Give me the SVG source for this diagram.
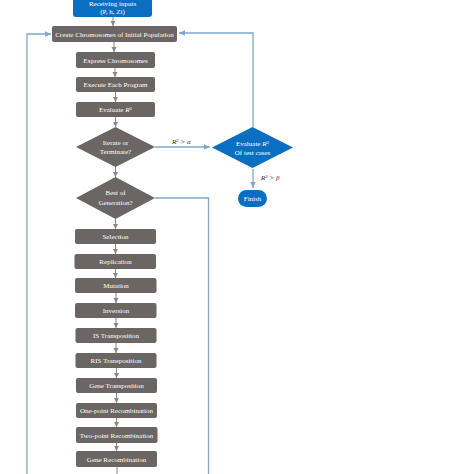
<svg xmlns="http://www.w3.org/2000/svg" width="474" height="474" viewBox="0 0 474 474">
<defs>
<style>
.g{fill:#6b6663}
.b{fill:#0b6fc1}
.t{font-family:"Liberation Serif","Times New Roman",serif;font-size:7px;fill:#fff;text-anchor:middle}
.l{font-family:"Liberation Serif","Times New Roman",serif;font-size:7px;fill:#333;font-style:italic}
.ga{stroke:#8a8784;stroke-width:1;fill:none}
.bl{stroke:#7fa8cb;stroke-width:1.3;fill:none}
</style>
<marker id="ag" markerWidth="6" markerHeight="6" refX="5" refY="3" orient="auto" markerUnits="userSpaceOnUse">
<path d="M0,0.5 L5,3 L0,5.5 Z" fill="#8a8784"/>
</marker>
<marker id="ab" markerWidth="7" markerHeight="7" refX="6" refY="3.5" orient="auto" markerUnits="userSpaceOnUse">
<path d="M0,0.8 L6,3.5 L0,6.2 Z" fill="#7fa8cb"/>
</marker>
</defs>
<rect width="474" height="474" fill="#fff"/>
<g id="connectors">
<path class="ga" d="M113,17 V26" marker-end="url(#ag)"/>
<path class="ga" d="M114,42 V52" marker-end="url(#ag)"/>
<path class="ga" d="M115,68 V77" marker-end="url(#ag)"/>
<path class="ga" d="M115.5,92 V102" marker-end="url(#ag)"/>
<path class="ga" d="M115.5,117 V127" marker-end="url(#ag)"/>
<path class="ga" d="M115.5,166 V177" marker-end="url(#ag)"/>
<path class="ga" d="M115.5,219 V229" marker-end="url(#ag)"/>
<path class="ga" d="M115.5,244 V254" marker-end="url(#ag)"/>
<path class="ga" d="M115.5,269 V278" marker-end="url(#ag)"/>
<path class="ga" d="M116,293 V303" marker-end="url(#ag)"/>
<path class="ga" d="M116,318 V328" marker-end="url(#ag)"/>
<path class="ga" d="M116,343 V353" marker-end="url(#ag)"/>
<path class="ga" d="M116.5,368 V378" marker-end="url(#ag)"/>
<path class="ga" d="M116.5,393 V403" marker-end="url(#ag)"/>
<path class="ga" d="M116.5,418 V427" marker-end="url(#ag)"/>
<path class="ga" d="M116.5,443 V451" marker-end="url(#ag)"/>
<path class="ga" d="M117,467 V476"/>
<path class="bl" d="M27,476 V34 H51" marker-end="url(#ab)"/>
<path class="bl" d="M253,127 V33 H179" marker-end="url(#ab)"/>
<path class="bl" d="M155,147 H210" marker-end="url(#ab)"/>
<path class="bl" d="M253,169 V188" marker-end="url(#ab)"/>
<path class="bl" d="M155,198 H208.5 V476"/>
<text class="l" x="172" y="144">R<tspan font-size="5" dy="-2.5" font-style="normal">2</tspan><tspan dy="2.5"> &gt; α</tspan></text>
<text class="l" x="261" y="180">R<tspan font-size="5" dy="-2.5" font-style="normal">2</tspan><tspan dy="2.5"> &gt; β</tspan></text>
</g>
<g id="receiving"><rect class="b" x="73" y="-8" width="79" height="25" rx="3"/><text class="t" x="112.5" y="6">Receiving inputs</text><text class="t" x="112.5" y="13.5">(P, h, Zi)</text></g>
<g id="create"><rect class="g" x="52" y="26" width="125" height="16" rx="2"/><text class="t" x="114.5" y="36.5">Create Chromosomes of Initial Population</text></g>
<g id="express"><rect class="g" x="76" y="52" width="79" height="16" rx="2"/><text class="t" x="115.5" y="62.5">Express Chromosomes</text></g>
<g id="execute"><rect class="g" x="76" y="77" width="79" height="15" rx="2"/><text class="t" x="115.5" y="87">Execute Each Program</text></g>
<g id="evaluate"><rect class="g" x="76" y="102" width="79" height="15" rx="2"/><text class="t" x="115.5" y="112">Evaluate <tspan font-style="italic">R</tspan><tspan font-size="5" dy="-2.5">2</tspan></text></g>
<g id="iterate"><path class="g" d="M115.5,127 L155,147 L115.5,167 L76,147 Z"/><text class="t" x="115.5" y="145">Iterate or</text><text class="t" x="115.5" y="154">Terminate?</text></g>
<g id="evaltest"><path class="b" d="M252.5,127 L293,147.5 L252.5,168 L212,147.5 Z"/><text class="t" x="252.5" y="146">Evaluate <tspan font-style="italic">R</tspan><tspan font-size="5" dy="-2.5">2</tspan></text><text class="t" x="252.5" y="155">Of test cases</text></g>
<g id="finish"><rect class="b" x="238" y="190" width="29" height="17" rx="8.5"/><text class="t" x="252.5" y="200.5">Finish</text></g>
<g id="best"><path class="g" d="M115.5,177 L155,198 L115.5,219 L76,198 Z"/><text class="t" x="115.5" y="195">Best of</text><text class="t" x="115.5" y="205">Generation?</text></g>
<g id="selection"><rect class="g" x="75" y="229" width="81" height="15" rx="2"/><text class="t" x="115.5" y="239">Selection</text></g>
<g id="replication"><rect class="g" x="74.5" y="254" width="81.5" height="15" rx="2"/><text class="t" x="115.5" y="264">Replication</text></g>
<g id="mutation"><rect class="g" x="75" y="278" width="81.5" height="15" rx="2"/><text class="t" x="116" y="288">Mutation</text></g>
<g id="inversion"><rect class="g" x="75" y="303" width="81.5" height="15" rx="2"/><text class="t" x="116" y="313">Inversion</text></g>
<g id="is"><rect class="g" x="75.5" y="328" width="81" height="15" rx="2"/><text class="t" x="116" y="338">IS Transposition</text></g>
<g id="ris"><rect class="g" x="75.5" y="353" width="81" height="15" rx="2"/><text class="t" x="116" y="363">RIS Transposition</text></g>
<g id="genetrans"><rect class="g" x="76" y="378" width="81" height="15" rx="2"/><text class="t" x="116.5" y="388">Gene Transposition</text></g>
<g id="onepoint"><rect class="g" x="76" y="403" width="81" height="15" rx="2"/><text class="t" x="116.5" y="413">One-point Recombination</text></g>
<g id="twopoint"><rect class="g" x="76" y="427" width="81.5" height="16" rx="2"/><text class="t" x="116.5" y="437.5">Two-point Recombination</text></g>
<g id="generecomb"><rect class="g" x="76" y="451" width="81" height="16" rx="2"/><text class="t" x="116.5" y="461.5">Gene Recombination</text></g>
</svg>
